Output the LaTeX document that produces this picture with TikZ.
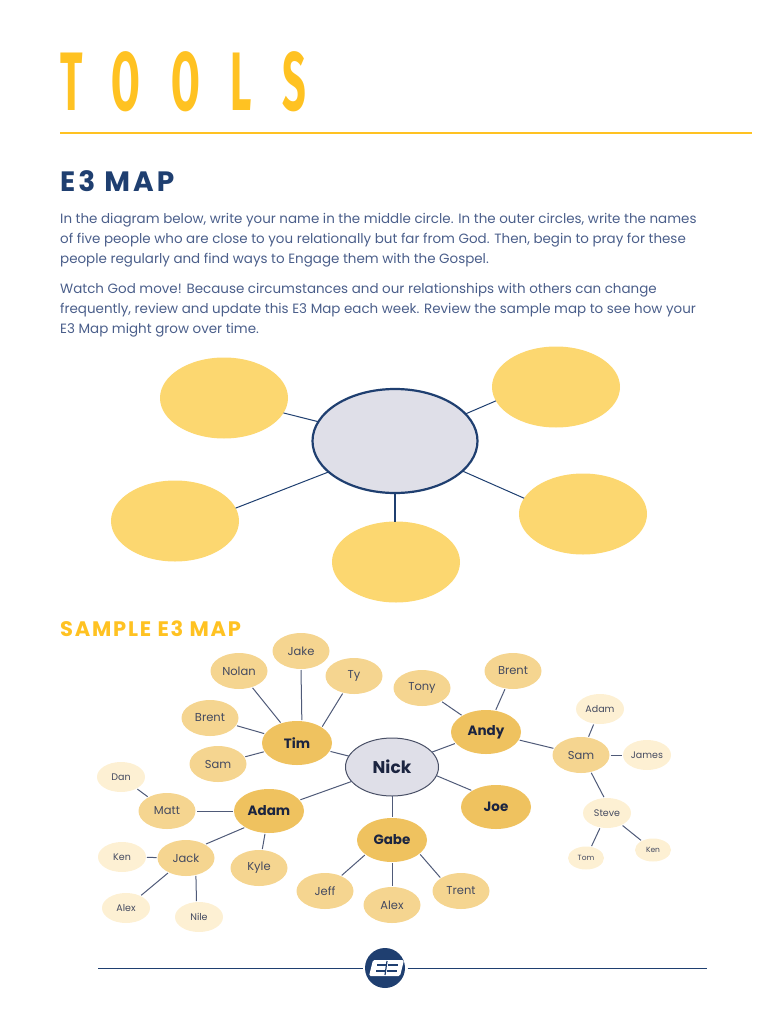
\documentclass[tikz,border=0pt]{standalone}
\usepackage{fontspec}
\setmainfont{Poppins}
\newfontfamily\titlefont{Fira Sans}
\usetikzlibrary{shapes.geometric}
\definecolor{navy}{HTML}{1F3F70}
\definecolor{bodyblue}{HTML}{4A5E8A}
\definecolor{gold}{HTML}{FFC222}
\definecolor{blank}{HTML}{FCD770}
\definecolor{center}{HTML}{DFDFE8}
\definecolor{lone}{HTML}{EFC25F}
\definecolor{ltwo}{HTML}{F5D590}
\definecolor{lthree}{HTML}{FDF0D3}
\definecolor{inkdark}{HTML}{1B2440}
\definecolor{inkgrey}{HTML}{444A60}
\definecolor{wire}{HTML}{4F5A78}
\begin{document}
\begin{tikzpicture}[x=1pt,y=-1pt,
        oval/.style={ellipse,inner sep=0pt,outer sep=0pt},
        bigoval/.style={oval,fill=blank,minimum width=128pt,minimum height=81pt},
        hub/.style={oval,fill=center,draw=navy,line width=2.2pt,minimum width=165pt,minimum height=104pt},
        nick/.style={oval,fill=center,draw=inkdark!80,line width=1pt,minimum width=93pt,minimum height=58pt,text=inkdark,font=\fontsize{17}{17}\selectfont\bfseries},
        first/.style={oval,fill=lone,minimum width=70pt,minimum height=44pt,text=inkdark,outer sep=1pt,font=\fontsize{13.5}{14}\selectfont\bfseries},
        second/.style={oval,fill=ltwo,minimum width=57pt,minimum height=36pt,text=inkgrey,outer sep=1pt,font=\fontsize{11.5}{12}\selectfont},
        third/.style={oval,fill=lthree,minimum width=48pt,minimum height=30pt,text=inkgrey,outer sep=1pt,font=\fontsize{9.5}{10}\selectfont},
        fourth/.style={oval,fill=lthree,minimum width=36pt,minimum height=23pt,text=inkgrey,outer sep=1pt,font=\fontsize{7.5}{8}\selectfont},
        spoke/.style={draw=navy,line width=1pt},
        wire/.style={draw=wire,line width=1pt}]
\useasboundingbox (0,0) rectangle (768,1024);

\node[anchor=base west,inner sep=0pt,text=gold] (title) at (60,111)
    {\scalebox{0.5}[1]{\fontsize{83}{83}\selectfont\titlefont\bfseries\addfontfeature{LetterSpace=74}TOOLS}};
\coordinate (ruleleft) at (60,133);
\coordinate (ruleright) at (752,133);
\draw[gold,line width=2pt] (ruleleft) -- (ruleright);

\node[anchor=base west,inner sep=0pt,text=navy,font=\fontsize{28}{28}\selectfont\bfseries] (head) at (60,192)
    {\addfontfeature{LetterSpace=11}E3 MAP};

\node[anchor=base west,inner sep=0pt,text=bodyblue,align=left,font=\fontsize{13.45}{19.8}\selectfont] (parone) at (60,263)
    {In the diagram below, write your name in the middle circle. In the outer circles, write the names\\
     of five people who are close to you relationally but far from God. Then, begin to pray for these\\
     people regularly and find ways to Engage them with the Gospel.};
\node[anchor=base west,inner sep=0pt,text=bodyblue,align=left,font=\fontsize{13.45}{19.8}\selectfont] (partwo) at (60,333)
    {Watch God move! Because circumstances and our relationships with others can change\\
     frequently, review and update this E3 Map each week. Review the sample map to see how your\\
     E3 Map might grow over time.};

% blank map
\node[hub] (me) at (395,441) {};
\node[bigoval] (blankA) at (224,398) {};
\node[bigoval] (blankB) at (556,387) {};
\node[bigoval] (blankC) at (175,521) {};
\node[bigoval] (blankD) at (583,514) {};
\node[bigoval] (blankE) at (396,562) {};
\draw[spoke] (me) -- (blankA);
\draw[spoke] (me.21) -- (blankB.193);
\draw[spoke] (me.205) -- (blankC.12);
\draw[spoke] (me.-24) -- (blankD.165);
\draw[spoke,line width=1.6pt] (me.south) -- (blankE.north-|me.south);

\node[anchor=base west,inner sep=0pt,text=gold,font=\fontsize{21}{21}\selectfont\bfseries] (sample) at (60,636.5)
    {\addfontfeature{LetterSpace=8.5}SAMPLE E3 MAP};

% sample map
\node[nick] (nick) at (392,767) {Nick};
\node[first] (tim) at (297,743) {Tim};
\node[first] (adam) at (269,811) {Adam};
\node[first] (andy) at (486,732) {Andy};
\node[first] (joe) at (496,807) {Joe};
\node[first] (gabe) at (392,840) {Gabe};

\node[second] (jake) at (301,651) {Jake};
\node[second] (nolan) at (239,671) {Nolan};
\node[second] (ty) at (354,676) {Ty};
\node[second] (brentl) at (210,718) {Brent};
\node[second] (saml) at (218,764) {Sam};
\node[second] (matt) at (167,811) {Matt};
\node[second] (jack) at (186,858) {Jack};
\node[second] (kyle) at (259,868) {Kyle};
\node[second] (jeff) at (325,891) {Jeff};
\node[second] (alexm) at (392,905) {Alex};
\node[second] (trent) at (461,891) {Trent};
\node[second] (tony) at (422,688) {Tony};
\node[second] (brentr) at (513,671) {Brent};
\node[second] (samr) at (581,755) {Sam};

\node[third] (dan) at (121,777) {Dan};
\node[third] (kenl) at (122,857) {Ken};
\node[third] (alexl) at (126,908) {Alex};
\node[third] (nile) at (199,917) {Nile};
\node[third] (adamr) at (600,709) {Adam};
\node[third] (james) at (647,755) {James};
\node[third] (steve) at (607,813) {Steve};
\node[fourth] (tom) at (586,858) {Tom};
\node[fourth] (kenr) at (653,850) {Ken};

\draw[wire] (nick) -- (tim);
\draw[wire] (nick) -- (adam);
\draw[wire] (nick) -- (andy);
\draw[wire] (nick.-11) -- (joe.146);
\draw[wire] (nick) -- (gabe);
\draw[wire] (tim.78) -- (jake.270);
\draw[wire] (tim) -- (nolan);
\draw[wire] (tim.33) -- (ty.237);
\draw[wire] (tim) -- (brentl);
\draw[wire] (tim) -- (saml);
\draw[wire] (adam) -- (matt);
\draw[wire] (adam.214) -- (jack.35);
\draw[wire] (adam) -- (kyle);
\draw[wire] (matt) -- (dan);
\draw[wire] (jack) -- (kenl);
\draw[wire] (jack) -- (alexl);
\draw[wire] (jack.-61) -- (nile.99);
\draw[wire] (gabe.209) -- (jeff.43);
\draw[wire] (gabe) -- (alexm);
\draw[wire] (gabe.-27) -- (trent.147);
\draw[wire] (andy) -- (tony);
\draw[wire] (andy) -- (brentr);
\draw[wire] (andy) -- (samr);
\draw[wire] (samr) -- (adamr);
\draw[wire] (samr) -- (james);
\draw[wire] (samr.-60) -- (steve.101);
\draw[wire] (steve) -- (tom);
\draw[wire] (steve) -- (kenr);

% footer
\node[circle,fill=navy,minimum size=40pt,inner sep=0pt,outer sep=2.5pt] (logo) at (385,968) {};
\coordinate (footleft) at (98,968);
\coordinate (footright) at (707,968);
\draw[navy,line width=1pt] (footleft) -- (logo);
\draw[navy,line width=1pt] (logo) -- (footright);
\fill[white,rounded corners=1.5pt] (373,960) -- (404,960) -- (400,976) -- (369,976) -- cycle;
\draw[navy,line width=1.2pt] (377,965) -- (386,965);
\draw[navy,line width=1.2pt] (376,971) -- (385,971);
\draw[navy,line width=1.2pt] (388,965) -- (398,965);
\draw[navy,line width=1.2pt] (387,971) -- (397,971);
\draw[navy,line width=1.2pt] (387,961) -- (385,975);
\end{tikzpicture}
\end{document}
